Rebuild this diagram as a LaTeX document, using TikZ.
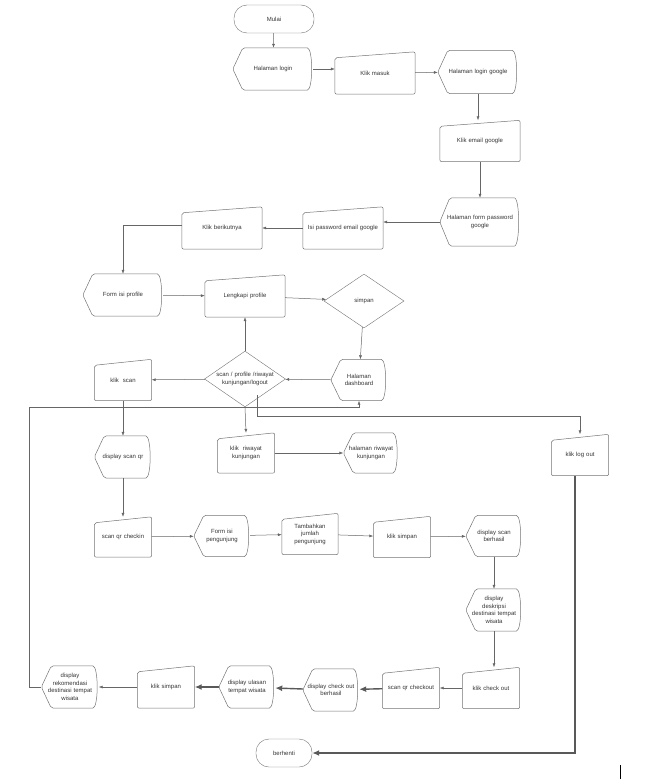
\documentclass[tikz,border=0pt]{standalone}
\usepackage{fontspec}
\setmainfont{Liberation Sans}
\usetikzlibrary{arrows.meta,shapes.geometric}
\tikzset{
  base/.style={inner sep=0pt,align=center,font=\fontsize{6}{7.5}\selectfont,text=black!80},
  outl/.style={draw=black!55,line width=0.5pt,rounded corners=2pt},
  arr/.style={draw=black!60,line width=0.5pt,-{Latex[length=4pt,width=3pt]}},
  tarr/.style={draw=black!65,line width=1.4pt,-{Latex[length=7pt,width=6pt]}},
}
\newcommand\dispnode[6]{%
  \node[base,minimum width=#4pt,minimum height=#5pt,text width=#4pt-6pt] (#1) at (#2,#3) {#6};
  \draw[outl] (#1.west) -- ([xshift=10pt]#1.north west) -- ([xshift=-8pt]#1.north east)
    .. controls (#1.north east) and (#1.south east) .. ([xshift=-8pt]#1.south east)
    -- ([xshift=10pt]#1.south west) -- cycle;}
\newcommand\mannode[6]{%
  \node[base,minimum width=#4pt,minimum height=#5pt,text width=#4pt-4pt] (#1) at (#2,#3) {#6};
  \draw[outl] (#1.south west) -- ([yshift=-6pt]#1.north west) -- (#1.north east) -- (#1.south east) -- cycle;}
\begin{document}
\hyphenpenalty=10000
\exhyphenpenalty=10000
\begin{tikzpicture}[x=1pt,y=-1pt]
\useasboundingbox (0,0) rectangle (648,781);
\node[base,draw=black!55,rounded corners=13pt,minimum width=80pt,minimum height=28pt] (mulai) at (274,19) {Mulai};
\dispnode{hl}{273}{69}{80}{42}{Halaman login}
\mannode{km}{375}{73}{80}{42}{Klik masuk}
\dispnode{hlg}{478}{72}{80}{43}{Halaman login google}
\mannode{kem}{480}{141}{80}{41}{Klik email google}
\node[base,minimum width=80pt,minimum height=48pt,text width=80pt] (hfp) at (480,222) {Halaman form password\\google};
\draw[outl] (hfp.west) -- ([xshift=10pt]hfp.north west) -- ([xshift=-8pt]hfp.north east)
    .. controls (hfp.north east) and (hfp.south east) .. ([xshift=-8pt]hfp.south east)
    -- ([xshift=10pt]hfp.south west) -- cycle;
\mannode{ipe}{343}{228}{80}{42}{Isi password email google}
\mannode{kb}{222}{228}{80}{42}{Klik berikutnya}
\dispnode{fip}{123}{295}{80}{42}{Form isi profile}
\mannode{lp}{245}{296}{80}{42}{Lengkapi profile}
\node[base,draw=black!55,diamond,aspect=1.5,minimum width=80pt,minimum height=54pt] (simpan) at (364,301) {simpan};
\dispnode{hd}{359}{380}{56}{41}{Halaman\\dashboard}
\node[base,draw=black!55,diamond,aspect=1.45,minimum width=72pt,minimum height=48pt,text width=62pt] (dec) at (245,379) {scan / profile /riwayat\\kunjungan/logout};
\mannode{ks}{123}{380}{57}{41}{klik\ \ scan}
\dispnode{dsq}{123}{457}{57}{42}{display scan qr}
\mannode{krk}{246}{453}{57}{40}{klik\ \ riwayat\\kunjungan}
\dispnode{hrk}{371}{453}{55}{40}{halaman riwayat kunjungan}
\mannode{klo}{580}{455}{57}{41}{klik log out}
\mannode{sqc}{123}{537}{57}{40}{scan qr checkin}
\dispnode{fipg}{222}{536}{56}{41}{Form isi\\pengunjung}
\mannode{tjp}{310}{534}{56}{41}{Tambahkan\\jumlah\\pengunjung}
\mannode{ks1}{402}{537}{57}{41}{klik simpan}
\dispnode{dsb}{494}{536}{56}{41}{display scan berhasil}
\dispnode{ddd}{494}{610}{56}{42}{display\\deskripsi\\destinasi tempat\\wisata}
\mannode{kco}{491}{688}{57}{41}{klik check out}
\mannode{sqco}{411}{688}{57}{41}{scan qr checkout}
\dispnode{dcob}{331}{690}{56}{42}{display check out\\berhasil}
\dispnode{dut}{247}{687}{56}{42}{display ulasan\\tempat wisata}
\mannode{ks2}{166}{687}{57}{42}{klik simpan}
\dispnode{drd}{70}{687}{57}{42}{display\\rekomendasi\\destinasi tempat\\wisata}
\node[base,draw=black!55,rounded corners=13pt,minimum width=56pt,minimum height=28pt] (stop) at (284,753) {berhenti};
\coordinate (c1) at (123,225);
\coordinate (c2) at (257,416);
\coordinate (c3) at (580,416);
\coordinate (c5) at (29,407);
\coordinate (c7) at (575,753);
\draw[arr] (mulai) -- (hl);
\draw[arr] (hl.east) -- (hl.east -| km.west);
\draw[arr] (km) -- (hlg);
\draw[arr] (hlg.south) -- (hlg.south |- kem.north);
\draw[arr] (kem) -- (hfp);
\draw[arr] (hfp.west) -- (hfp.west -| ipe.east);
\draw[arr] (ipe) -- (kb);
\draw[arr] (kb.west |- c1) -- (c1) -- (fip.north);
\draw[arr] (fip) -- (lp);
\draw[arr] (lp) -- (simpan);
\draw[arr] (simpan) -- (hd);
\draw[arr] (hd) -- (dec);
\draw[arr] (dec) -- (lp);
\draw[arr] (dec) -- (ks);
\draw[arr] (dec.south) -- (krk.north);
\draw[arr] (257,395) -- (c2) -- (c3) -- (klo.north);
\draw[arr] (ks) -- (dsq);
\draw[arr] (krk) -- (hrk);
\draw[arr] (dsq) -- (sqc);
\draw[arr] (sqc) -- (fipg);
\draw[arr] (fipg) -- (tjp);
\draw[arr] (tjp) -- (ks1);
\draw[arr] (ks1) -- (dsb);
\draw[arr] (dsb) -- (ddd);
\draw[arr] (ddd.south) -- (ddd.south |- kco.north);
\draw[arr] (kco) -- (sqco);
\draw[tarr] (sqco) -- (dcob);
\draw[tarr] (dcob) -- (dut);
\draw[tarr] (dut) -- (ks2);
\draw[arr] (ks2) -- (drd);
\draw[arr] (drd.west) -- (c5 |- drd.west) -- (c5) -| (hd.south);
\draw[tarr] (c7 |- klo.south) -- (c7) -- (stop.east);
\draw[black,line width=0.8pt] (620,765) -- (620,779);
\end{tikzpicture}
\end{document}
